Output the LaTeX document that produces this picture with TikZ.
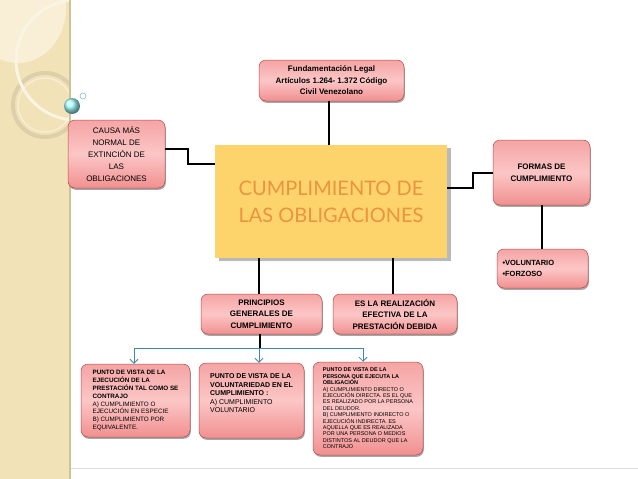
\documentclass[tikz,border=0pt]{standalone}
\usepackage{fontspec}
\setmainfont{Liberation Sans}
\newfontfamily\gill{Lato}
\usetikzlibrary{shadows,calc,arrows.meta}
\definecolor{side}{HTML}{F1E2B8}
\definecolor{sidelight}{HTML}{F8EFD6}
\definecolor{sideedge}{HTML}{CFC19B}
\definecolor{ring}{HTML}{DCCFAA}
\definecolor{pinkT}{HTML}{F5A4A4}
\definecolor{pinkM}{HTML}{FCC6C6}
\definecolor{pinkB}{HTML}{F19090}
\definecolor{boxline}{HTML}{B84A4A}
\definecolor{centfill}{HTML}{FDD46C}
\definecolor{centtext}{HTML}{EA9440}
\definecolor{linkc}{HTML}{3F88AC}
\begin{document}
\begin{tikzpicture}[x=1pt,y=-1pt,
  pbox/.style={draw=boxline, line width=0.5pt, rounded corners=7pt,
    top color=pinkT, bottom color=pinkB, middle color=pinkM,
    drop shadow={shadow xshift=0.8pt, shadow yshift=-1.8pt, opacity=0.35, fill=black},
    inner sep=2pt, align=center, font=\bfseries\fontsize{8}{11.5}\selectfont},
  conn/.style={line width=2pt, black},
  link/.style={draw=linkc, line width=0.8pt, -{Straight Barb[length=4pt,width=8pt]}}]
\useasboundingbox (0,0) rectangle (638,479);
\fill[white] (0,0) rectangle (638,479);
% sidebar
\begin{scope}
  \clip (0,0) rectangle (70,479);
  \fill[side] (0,0) rectangle (70,479);
  \fill[sidelight] (18,8) ellipse (48 and 55);
  \draw[ring, line width=4pt] (45,105) circle (32);
  \draw[sidelight, line width=1.2pt] (45,105) circle (27);
  \draw[white!60!side, line width=3pt] (76,60) circle (60);
\end{scope}
\draw[sideedge, line width=1.5pt] (70,0) -- (70,479);
\shade[ball color=cyan!35!white] (72,106) circle (8);
\draw[linkc!60, line width=0.6pt, fill=white] (83,96) circle (3);
\draw[gray!25, line width=1pt] (71,468) -- (638,468);

% central box
\node[fill=centfill, minimum width=232, minimum height=113, inner sep=0pt,
  drop shadow={shadow xshift=4pt, shadow yshift=-3pt, opacity=0.55, fill=gray},
  text=centtext, align=center, font=\gill\fontsize{20}{27}\selectfont]
  (cent) at (331,201.5) {CUMPLIMIENTO DE\\LAS OBLIGACIONES};

\node[pbox, minimum width=145, minimum height=41] (fund) at (331.5,80.5)
  {Fundamentación Legal\\Artículos 1.264- 1.372 Código\\Civil Venezolano};
\node[pbox, minimum width=97, minimum height=68, font=\fontsize{8}{12}\selectfont] (causa) at (116.5,154)
  {CAUSA MÁS\\NORMAL DE\\EXTINCIÓN DE\\LAS\\OBLIGACIONES};
\node[pbox, minimum width=97, minimum height=65] (formas) at (541.5,172.5)
  {FORMAS DE\\CUMPLIMIENTO};
\node[pbox, minimum width=91, minimum height=39, text width=80, align=left,
  font=\bfseries\fontsize{7.5}{10.5}\selectfont] (volun) at (542.5,268.5)
  {•VOLUNTARIO\\•FORZOSO};
\node[pbox, minimum width=121, minimum height=40] (princ) at (261.5,314)
  {PRINCIPIOS\\GENERALES DE\\CUMPLIMIENTO};
\node[pbox, minimum width=124, minimum height=40] (esla) at (395,314)
  {ES LA REALIZACIÓN\\EFECTIVA DE LA\\PRESTACIÓN DEBIDA};

\node[pbox, minimum width=109, minimum height=73, align=left,
  font=\fontsize{6.3}{7.8}\selectfont] (b1) at (135.5,400.5)
  {\textbf{PUNTO DE VISTA DE LA}\\\textbf{EJECUCIÓN DE LA}\\\textbf{PRESTACIÓN TAL COMO SE}\\\textbf{CONTRAJO}\\A) CUMPLIMIENTO O\\EJECUCIÓN EN ESPECIE\\B) CUMPLIMIENTO POR\\EQUIVALENTE.};
\node[pbox, minimum width=105, minimum height=75, align=left,
  font=\fontsize{7}{8.6}\selectfont] (b2) at (251.5,400.5)
  {\textbf{PUNTO DE VISTA DE LA}\\\textbf{VOLUNTARIEDAD EN EL}\\\textbf{CUMPLIMIENTO :}\\A) CUMPLIMIENTO\\VOLUNTARIO\\[6pt]};
\node[pbox, minimum width=110, minimum height=93, align=left, inner sep=1pt,
  font=\fontsize{5.5}{6.4}\selectfont] (b3) at (368,408.5)
  {\textbf{PUNTO DE VISTA DE LA}\\\textbf{PERSONA QUE EJECUTA LA}\\\textbf{OBLIGACIÓN}\\A) CUMPLIMIENTO DIRECTO O\\EJECUCIÓN DIRECTA. ES EL QUE\\ES REALIZADO POR LA PERSONA\\DEL DEUDOR.\\B) CUMPLIMIENTO INDIRECTO O\\EJECUCIÓN INDIRECTA. ES\\AQUELLA QUE ES REALIZADA\\POR UNA PERSONA O MEDIOS\\DISTINTOS AL DEUDOR QUE LA\\CONTRAJO};

% connectors
\draw[conn] ([xshift=-3]fund.south) -- ([xshift=-3]fund.south |- cent.north);
\draw[conn] ($(causa.east)+(0,-5)$) -- ++(23,0) |- ($(cent.north west)+(0,19)$);
\draw[conn] ($(cent.north east)+(0,43)$) -- ++(26,0) |- (formas.west);
\draw[conn] (formas.south) -- (formas.south |- volun.north);
\draw[conn] ([xshift=-2.5]princ.north |- cent.south) -- ([xshift=-2.5]princ.north);
\draw[conn] ([xshift=-2]esla.north |- cent.south) -- ([xshift=-2]esla.north);
\coordinate (hub) at ($(princ.south)+(-2,14)$);
\draw[conn] ([xshift=-2]princ.south) -- (hub);
\draw[link] (hub) -| ([xshift=-1.5]b1.north);
\draw[link] (hub) -| ([xshift=7.5]b2.north);
\draw[link] (hub) -| ([xshift=-5]b3.north);
\end{tikzpicture}
\end{document}
